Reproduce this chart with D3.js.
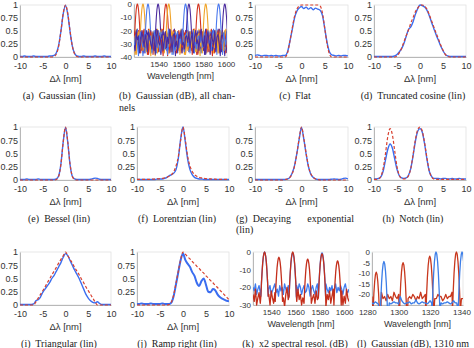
<!DOCTYPE html>
<html>
<head>
<meta charset="utf-8">
<script src="https://cdn.jsdelivr.net/npm/d3@7"></script>
<style>
  body { margin: 0; background: #fff; }
  .tick text, .axtitle { font-family: "Liberation Sans", Arial, sans-serif; font-size: 9px; fill: #333; }
  .axtitle { font-size: 9.5px; }
  .db .tick text { font-size: 8px; }
  .axtitle.db-title { font-size: 9px; }
  .cap { font-family: "Liberation Serif", "Times New Roman", serif; font-size: 10px; fill: #222; white-space: pre; }
</style>
</head>
<body>
<div id="fig"></div>
<script>
// svg container
var svgWidth = 474;
var svgHeight = 348;

// wavelength offset grid shared by the linear panels [nm]
var dl = [-10, -9.5, -9, -8.5, -8, -7.5, -7, -6.5, -6, -5.5,
  -5, -4.5, -4, -3.5, -3, -2.5, -2, -1.5, -1, -0.5,
  0,
  0.5, 1, 1.5, 2, 2.5, 3, 3.5, 4, 4.5, 5,
  5.5, 6, 6.5, 7, 7.5, 8, 8.5, 9, 9.5, 10];

// target (dashed) and measured (solid) responses, linear scale
var gaussTarget = [0, 0, 0, 0, 0, 0, 0, 0, 0, 0,
  0, 0, 0, 0, 0, 0.01, 0.06, 0.21, 0.5, 0.84,
  1,
  0.84, 0.5, 0.21, 0.06, 0.01, 0, 0, 0, 0, 0,
  0, 0, 0, 0, 0, 0, 0, 0, 0, 0];
var gaussMeas = [0.01, 0.01, 0.02, 0.01, 0.01, 0.01, 0.02, 0.01, 0.01, 0.01,
  0.01, 0.01, 0.01, 0.02, 0.02, 0.03, 0.08, 0.23, 0.5, 0.83,
  0.99,
  0.82, 0.49, 0.21, 0.07, 0.02, 0.01, 0.01, 0.02, 0.01, 0.01,
  0.01, 0.01, 0.02, 0.01, 0.01, 0.01, 0.02, 0.01, 0.01, 0.01];

var flatTarget = [0, 0, 0, 0, 0, 0, 0, 0, 0, 0,
  0, 0, 0, 0, 0.08, 0.3, 0.55, 0.78, 0.92, 0.98,
  1,
  1, 1, 1, 1, 1, 1, 1, 0.98, 0.85, 0.55,
  0.25, 0.06, 0, 0, 0, 0, 0, 0, 0, 0];
var flatMeas = [0.03, 0.04, 0.03, 0.02, 0.03, 0.03, 0.02, 0.03, 0.02, 0.03,
  0.02, 0.02, 0.03, 0.03, 0.1, 0.3, 0.52, 0.75, 0.88, 0.94,
  0.97,
  0.93, 0.96, 0.92, 0.95, 0.91, 0.94, 0.92, 0.9, 0.8, 0.55,
  0.28, 0.1, 0.04, 0.03, 0.02, 0.03, 0.02, 0.03, 0.03, 0.02];

var cosTarget = [0, 0, 0, 0, 0, 0, 0, 0, 0, 0,
  0.02, 0.08, 0.17, 0.29, 0.41, 0.52, 0.65, 0.76, 0.87, 0.94,
  0.99,
  1, 0.98, 0.92, 0.82, 0.7, 0.58, 0.46, 0.35, 0.23, 0.13,
  0.05, 0.01, 0, 0, 0, 0, 0, 0, 0, 0];
var cosMeas = [0.01, 0.01, 0.01, 0.01, 0.01, 0.01, 0.01, 0.01, 0.01, 0.02,
  0.05, 0.1, 0.16, 0.26, 0.4, 0.53, 0.58, 0.68, 0.82, 0.93,
  1,
  0.99, 0.96, 0.9, 0.8, 0.67, 0.55, 0.43, 0.32, 0.21, 0.12,
  0.05, 0.02, 0.01, 0.01, 0.01, 0.01, 0.01, 0.01, 0.01, 0.01];

var besselTarget = [0, 0, 0, 0, 0, 0, 0, 0, 0, 0,
  0, 0, 0, 0, 0, 0, 0.01, 0.07, 0.3, 0.72,
  1,
  0.72, 0.3, 0.07, 0.01, 0, 0, 0, 0, 0, 0,
  0, 0, 0, 0, 0, 0, 0, 0, 0, 0];
var besselMeas = [0.01, 0.01, 0.01, 0.02, 0.01, 0.01, 0.01, 0.01, 0.02, 0.01,
  0.01, 0.01, 0.01, 0.01, 0.01, 0.01, 0.02, 0.08, 0.31, 0.72,
  0.99,
  0.71, 0.29, 0.07, 0.02, 0.01, 0.01, 0.01, 0.01, 0.01, 0.01,
  0.015, 0.025, 0.035, 0.03, 0.015, 0.01, 0.01, 0.01, 0.01, 0.01];

var lorTarget = [0.01, 0.01, 0.01, 0.01, 0.01, 0.01, 0.015, 0.015, 0.02, 0.02,
  0.025, 0.03, 0.04, 0.05, 0.07, 0.1, 0.16, 0.27, 0.45, 0.76,
  1,
  0.76, 0.45, 0.27, 0.16, 0.1, 0.07, 0.05, 0.04, 0.03, 0.025,
  0.02, 0.02, 0.015, 0.015, 0.01, 0.01, 0.01, 0.01, 0.01, 0.01];
var lorMeas = [0.01, 0.01, 0.01, 0.01, 0.01, 0.01, 0.01, 0.01, 0.01, 0.02,
  0.02, 0.02, 0.03, 0.05, 0.08, 0.1, 0.13, 0.2, 0.42, 0.78,
  1,
  0.72, 0.4, 0.2, 0.1, 0.05, 0.03, 0.02, 0.02, 0.01, 0.01,
  0.01, 0.01, 0.01, 0.01, 0.01, 0.01, 0.01, 0.01, 0.01, 0.01];

var expTarget = [0, 0, 0, 0, 0, 0, 0, 0, 0, 0,
  0, 0, 0, 0.01, 0.02, 0.05, 0.12, 0.26, 0.5, 0.78,
  1,
  0.78, 0.5, 0.26, 0.12, 0.05, 0.02, 0.01, 0, 0, 0,
  0, 0, 0, 0, 0, 0, 0, 0, 0, 0];
var expMeas = [0.01, 0.01, 0.01, 0.01, 0.01, 0.01, 0.01, 0.01, 0.01, 0.01,
  0.01, 0.01, 0.01, 0.01, 0.02, 0.05, 0.13, 0.27, 0.5, 0.77,
  0.99,
  0.77, 0.49, 0.25, 0.11, 0.05, 0.02, 0.01, 0.01, 0.01, 0.01,
  0.01, 0.01, 0.015, 0.02, 0.015, 0.01, 0.015, 0.03, 0.035, 0.02];

var notchTarget = [0.01, 0.01, 0.02, 0.07, 0.22, 0.5, 0.82, 0.97, 0.85, 0.55,
  0.25, 0.09, 0.03, 0.02, 0.03, 0.08, 0.22, 0.48, 0.76, 0.95,
  1,
  0.92, 0.7, 0.42, 0.18, 0.06, 0.02, 0.01, 0.01, 0.01, 0.01,
  0.01, 0.01, 0.01, 0.01, 0.01, 0.01, 0.01, 0.01, 0.01, 0.01];
var notchMeas = [0.02, 0.02, 0.03, 0.06, 0.17, 0.38, 0.58, 0.68, 0.6, 0.4,
  0.2, 0.08, 0.04, 0.03, 0.04, 0.09, 0.22, 0.46, 0.73, 0.92,
  0.97,
  0.9, 0.68, 0.4, 0.17, 0.07, 0.03, 0.03, 0.03, 0.02, 0.03,
  0.03, 0.02, 0.02, 0.03, 0.02, 0.02, 0.03, 0.02, 0.02, 0.02];

var triTarget = [0, 0, 0, 0, 0, 0, 0, 0.06, 0.13, 0.2,
  0.27, 0.34, 0.42, 0.49, 0.57, 0.64, 0.71, 0.79, 0.86, 0.93,
  1,
  0.93, 0.86, 0.79, 0.71, 0.64, 0.57, 0.49, 0.42, 0.34, 0.27,
  0.2, 0.13, 0.06, 0, 0, 0, 0, 0, 0, 0];
var triMeas = [0.01, 0.01, 0.01, 0.01, 0.01, 0.01, 0.02, 0.08, 0.1, 0.15,
  0.24, 0.3, 0.36, 0.42, 0.5, 0.56, 0.64, 0.72, 0.8, 0.9,
  0.97,
  0.93, 0.84, 0.75, 0.66, 0.58, 0.5, 0.4, 0.3, 0.2, 0.13,
  0.08, 0.05, 0.04, 0.06, 0.03, 0.01, 0.01, 0.01, 0.01, 0.01];

var rampTarget = [0, 0, 0, 0, 0, 0, 0, 0, 0, 0,
  0, 0, 0, 0, 0.01, 0.06, 0.2, 0.42, 0.65, 0.86,
  1,
  0.96, 0.91, 0.87, 0.82, 0.78, 0.73, 0.69, 0.64, 0.6, 0.55,
  0.51, 0.46, 0.42, 0.37, 0.33, 0.28, 0.24, 0.19, 0.15, 0.1];
var rampMeas = [0.02, 0.02, 0.03, 0.02, 0.02, 0.02, 0.03, 0.02, 0.02, 0.02,
  0.02, 0.03, 0.02, 0.02, 0.02, 0.05, 0.18, 0.4, 0.63, 0.85,
  0.97,
  0.85, 0.78, 0.72, 0.62, 0.55, 0.42, 0.36, 0.45, 0.5, 0.38,
  0.25, 0.24, 0.3, 0.28, 0.2, 0.15, 0.12, 0.1, 0.08, 0.07];

// (b) all channels, dB
var bStart = 1518, bEnd = 1601;
var chanCenter = [1521, 1526, 1530.5, 1539.5, 1546.5, 1549, 1564, 1567, 1575.5, 1582, 1593.5, 1599];
var chanPeakOff = [-2.5, -2, -1.5, -1, -0.5, 0, 0.5, 1, 1.5, 2, 2.5];
var chanPeakDb = [-25, -16, -9, -4, -1, 0, -1, -4, -9, -16, -25];
var chanFloor = [-24, -29, -21, -33, -26, -22, -37, -25, -20, -30, -27, -35, -23, -19, -28, -32, -24, -38, -26, -21,
  -29, -34, -22, -27, -31, -20, -36, -25, -23, -30, -39, -24, -21, -28, -33, -26, -19, -31, -35, -22,
  -27, -24, -37, -29, -20, -26, -32, -23, -28, -36, -21, -25, -30, -34, -22, -27, -38, -24, -20, -29,
  -31, -26, -23, -35, -28, -21, -33, -25, -30, -19, -27, -36, -24, -22, -32, -28, -37, -23, -26, -20,
  -31, -29, -34, -25];

// (k) doubled spectral resolution, dB
var kStart = 1525, kEnd = 1604;
var kRedCenter = [1534.5, 1546.3, 1557.7, 1570, 1581.8, 1594.6];
var kRedPeak = [0, -3, 0, -4, -1, -5];
var kBlueCenter = [1534.5, 1557.7, 1581.8];
var kBluePeak = [0, -0.5, -0.5];
var kPeakOff = [-3, -2.5, -2, -1.5, -1, -0.5, 0, 0.5, 1, 1.5, 2, 2.5, 3];
var kPeakDb = [-25, -17, -11, -6, -2.7, -0.7, 0, -0.7, -2.7, -6, -11, -17, -25];
var kRedFloor = [-24, -28, -21, -30, -26, -23, -29, -22, -27, -31, -25, -20, -28, -24, -30, -22, -26, -29, -23, -27,
  -21, -30, -25, -28, -22, -26, -31, -24, -20, -27, -29, -23, -26, -30, -22, -25, -28, -21, -27, -24,
  -30, -26, -22, -29, -25, -23, -28, -31, -21, -26, -24, -29, -22, -27, -30, -25, -20, -28, -23, -26,
  -31, -24, -27, -22, -29, -25, -21, -30, -26, -23, -28, -24, -27, -22, -30, -25, -29, -21, -26, -28];
var kBlueFloor = [-20, -22, -18, -24, -21, -19, -23, -17, -22, -25, -20, -18, -23, -21, -19, -24, -22, -20, -18, -23,
  -21, -25, -19, -22, -20, -24, -18, -21, -23, -19, -22, -20, -17, -24, -21, -23, -19, -22, -18, -20,
  -24, -21, -19, -23, -22, -18, -20, -25, -21, -19, -22, -24, -20, -18, -23, -21, -19, -22, -20, -24,
  -18, -21, -23, -20, -22, -19, -24, -21, -18, -23, -20, -22, -19, -21, -24, -20, -18, -22, -23, -21];

// (l) O-band Gaussian channels, dB
var lStart = 1283, lEnd = 1341;
var lRedCenter = [1285.7, 1302.8, 1319.8, 1336.8];
var lRedPeak = [-9.5, -5, -2, 0];
var lBlueCenter = [1290.6, 1323.8, 1340.4];
var lBluePeak = [-4.5, 0, 0];
var lPeakOff = [-2.5, -2, -1.5, -1, -0.5, 0, 0.5, 1, 1.5, 2, 2.5];
var lPeakDb = [-28, -18, -10, -4.5, -1.1, 0, -1.1, -4.5, -10, -18, -28];
var lRedFloor = [-21, -22, -20, -23, -21, -22, -19, -22, -21, -23, -20, -22, -21, -23, -19, -21, -22, -20, -22, -20,
  -23, -21, -19, -22, -21, -22, -20, -21, -23, -21, -22, -19, -22, -21, -20, -22, -23, -21, -21, -19,
  -22, -22, -20, -21, -21, -23, -22, -20, -22, -21, -21, -19, -22, -23, -21, -21, -20, -22, -22, -21];
var lBlueFloor = [-24, -24.5, -23.5, -24, -24.5, -24, -23, -24, -24.5, -24, -22, -24, -24.5, -24, -23.5, -24, -24, -24.5, -21, -23,
  -24, -24.5, -24, -24, -23.5, -24.5, -24, -24, -22.5, -24, -24.5, -24, -23.5, -24, -24, -24.5, -24, -23, -24, -24.5,
  -24, -24, -22, -23.5, -24, -24.5, -24, -24, -23.5, -24, -24.5, -24, -23, -24, -24, -24.5, -24, -23.5, -24, -24];

// colours
var blueC = "#3a6df0";
var redC = "#d8402f";
var chanPalette = ["#d2331f", "#f0a42a", "#4a78ee", "#4b2b9e"];

// panel grid
var colLeft = [20, 137, 255, 374];
var colRight = [111, 229, 348, 466];
var rowTop = [5, 127, 252];
var rowBottom = [57, 180, 305];

var svg = d3.select("#fig")
  .append("svg")
  .attr("width", svgWidth)
  .attr("height", svgHeight);

var clipCount = 0;

// axes + box for one panel, returns a clipped group for the traces
function drawFrame(xScale, yScale, xTicks, yTicks, xTitle, isDb) {
  var x0 = xScale.range()[0], x1 = xScale.range()[1];
  var y0 = yScale.range()[1], y1 = yScale.range()[0];

  svg.append("rect")
    .attr("x", x0).attr("y", y0)
    .attr("width", x1 - x0).attr("height", y1 - y0)
    .attr("fill", "none")
    .attr("stroke", "#e2e2e2")
    .attr("stroke-width", 0.8);

  var xAxis = svg.append("g")
    .classed("db", !!isDb)
    .attr("transform", `translate(0, ${y1})`)
    .call(d3.axisBottom(xScale).tickValues(xTicks).tickSize(0).tickPadding(isDb ? 4 : 6).tickFormat(d => String(d)));
  var yAxis = svg.append("g")
    .classed("db", !!isDb)
    .attr("transform", `translate(${x0}, 0)`)
    .call(d3.axisLeft(yScale).tickValues(yTicks).tickSize(0).tickPadding(2).tickFormat(d => String(d)));

  [xAxis, yAxis].forEach(function(ax) {
    ax.attr("font-size", null).attr("font-family", null);
    ax.select(".domain").attr("stroke", "#a8a8a8").attr("stroke-width", 0.8);
  });

  svg.append("text")
    .attr("class", "axtitle")
    .classed("db-title", !!isDb)
    .attr("x", (x0 + x1) / 2)
    .attr("y", y1 + (isDb ? 22 : 24.5))
    .attr("text-anchor", "middle")
    .text(xTitle);

  var id = "clip" + (clipCount++);
  svg.append("clipPath").attr("id", id)
    .append("rect")
    .attr("x", x0).attr("y", y0 - 1)
    .attr("width", x1 - x0).attr("height", y1 - y0 + 2);

  return svg.append("g").attr("clip-path", `url(#${id})`);
}

function caption(col, row, label) {
  svg.append("text")
    .attr("class", "cap")
    .attr("x", col * 118 + 59)
    .attr("y", rowBottom[row] + 42)
    .attr("text-anchor", "middle")
    .text(label);
}

// linear panels
var linPanels = [
  { col: 0, row: 0, target: gaussTarget, meas: gaussMeas, cap: "(a)  Gaussian (lin)" },
  { col: 2, row: 0, target: flatTarget, meas: flatMeas, cap: "(c)  Flat" },
  { col: 3, row: 0, target: cosTarget, meas: cosMeas, cap: "(d)  Truncated cosine (lin)" },
  { col: 0, row: 1, target: besselTarget, meas: besselMeas, cap: "(e)  Bessel (lin)" },
  { col: 1, row: 1, target: lorTarget, meas: lorMeas, cap: "(f)  Lorentzian (lin)" },
  { col: 2, row: 1, target: expTarget, meas: expMeas, cap: null },
  { col: 3, row: 1, target: notchTarget, meas: notchMeas, cap: "(h)  Notch (lin)" },
  { col: 0, row: 2, target: triTarget, meas: triMeas, cap: "(i)  Triangular (lin)" },
  { col: 1, row: 2, target: rampTarget, meas: rampMeas, cap: "(j)  Ramp right (lin)" }
];

linPanels.forEach(function(p) {
  var xLinearScale = d3.scaleLinear().domain([-10, 10]).range([colLeft[p.col], colRight[p.col]]);
  var yLinearScale = d3.scaleLinear().domain([0, 1]).range([rowBottom[p.row], rowTop[p.row]]);

  var plot = drawFrame(xLinearScale, yLinearScale, [-10, -5, 0, 5, 10], [0, 0.25, 0.5, 0.75, 1], "\u0394\u03bb [nm]", false);

  var line = d3.line()
    .x((d, i) => xLinearScale(dl[i]))
    .y(d => yLinearScale(d))
    .curve(d3.curveMonotoneX);

  plot.append("path")
    .attr("d", line(p.meas))
    .attr("fill", "none")
    .attr("stroke", blueC)
    .attr("stroke-width", p.meas === rampMeas ? 2 : 1.4);

  plot.append("path")
    .attr("d", line(p.target))
    .attr("fill", "none")
    .attr("stroke", redC)
    .attr("stroke-width", 1.2)
    .attr("stroke-dasharray", "3,2");

  if (p.cap) caption(p.col, p.row, p.cap);
});

// (g) caption is justified over two lines
svg.append("text").attr("class", "cap").attr("x", 236).attr("y", rowBottom[1] + 42).text("(g)  Decaying");
svg.append("text").attr("class", "cap").attr("x", 354).attr("y", rowBottom[1] + 42).attr("text-anchor", "end").text("exponential");
svg.append("text").attr("class", "cap").attr("x", 236).attr("y", rowBottom[1] + 53).text("(lin)");

// build a dB trace: noise floor between peaks plus a peak shape at each channel
function buildTrace(start, end, floor, shift, centers, peaks, off, shape) {
  var gap = d3.max(off) + 0.2;
  var pts = [];
  for (var j = 0, x = start; x <= end; j++, x++) {
    if (centers.every(c => Math.abs(x - c) > gap)) {
      pts.push([x, floor[(j + shift) % floor.length]]);
    }
  }
  centers.forEach(function(c, i) {
    off.forEach(function(o, m) {
      pts.push([c + o, peaks[i] + shape[m]]);
    });
  });
  return pts.sort((a, b) => a[0] - b[0]);
}

function drawTrace(plot, xScale, yScale, pts, color, width) {
  var line = d3.line()
    .x(d => xScale(d[0]))
    .y(d => yScale(d[1]))
    .curve(d3.curveLinear);
  plot.append("path")
    .attr("d", line(pts))
    .attr("fill", "none")
    .attr("stroke", color)
    .attr("stroke-width", width)
    .attr("stroke-linejoin", "round");
}

// (b) Gaussian, all channels
(function() {
  var xScale = d3.scaleLinear().domain([bStart, bEnd]).range([134, 227]);
  var yScale = d3.scaleLinear().domain([-40, 0]).range([rowBottom[0], 4]);
  var plot = drawFrame(xScale, yScale, [1540, 1560, 1580, 1600], [0, -10, -20, -30, -40], "Wavelength [nm]", true);
  chanCenter.forEach(function(c, k) {
    var pts = buildTrace(bStart, bEnd, chanFloor, k * 11, [c], [0], chanPeakOff, chanPeakDb);
    drawTrace(plot, xScale, yScale, pts, chanPalette[k % 4], 1.1);
  });
  svg.append("text").attr("class", "cap").attr("x", 119).attr("y", rowBottom[0] + 42)
    .attr("textLength", 116).attr("lengthAdjust", "spacing")
    .text("(b)  Gaussian (dB), all chan-");
  svg.append("text").attr("class", "cap").attr("x", 119).attr("y", rowBottom[0] + 53.5).text("nels");
})();

// (k) x2 spectral resolution
(function() {
  var xScale = d3.scaleLinear().domain([kStart, kEnd]).range([253, 349]);
  var yScale = d3.scaleLinear().domain([-30, 0]).range([rowBottom[2], rowTop[2]]);
  var plot = drawFrame(xScale, yScale, [1540, 1560, 1580, 1600], [0, -10, -20, -30], "Wavelength [nm]", true);
  drawTrace(plot, xScale, yScale,
    buildTrace(kStart, kEnd, kBlueFloor, 0, kBlueCenter, kBluePeak, kPeakOff, kPeakDb), "#3f7cf0", 1.3);
  drawTrace(plot, xScale, yScale,
    buildTrace(kStart, kEnd, kRedFloor, 0, kRedCenter, kRedPeak, kPeakOff, kPeakDb), "#c42f1c", 1.3);
  caption(2, 2, "(k)  x2 spectral resol. (dB)");
})();

// (l) Gaussian at 1310 nm
(function() {
  var xScale = d3.scaleLinear().domain([lStart, lEnd]).range([372, 463]);
  var yScale = d3.scaleLinear().domain([-25, 0]).range([rowBottom[2], rowTop[2]]);
  var plot = drawFrame(xScale, yScale, [1280, 1300, 1320, 1340], [0, -5, -10, -15, -20], "Wavelength [nm]", true);
  drawTrace(plot, xScale, yScale,
    buildTrace(lStart, lEnd, lRedFloor, 0, lRedCenter, lRedPeak, lPeakOff, lPeakDb), "#c8381e", 1.3);
  drawTrace(plot, xScale, yScale,
    buildTrace(lStart, lEnd, lBlueFloor, 0, lBlueCenter, lBluePeak, lPeakOff, lPeakDb), "#3c7ee8", 1.3);
  caption(3, 2, "(l)  Gaussian (dB), 1310 nm");
})();
</script>
</body>
</html>
